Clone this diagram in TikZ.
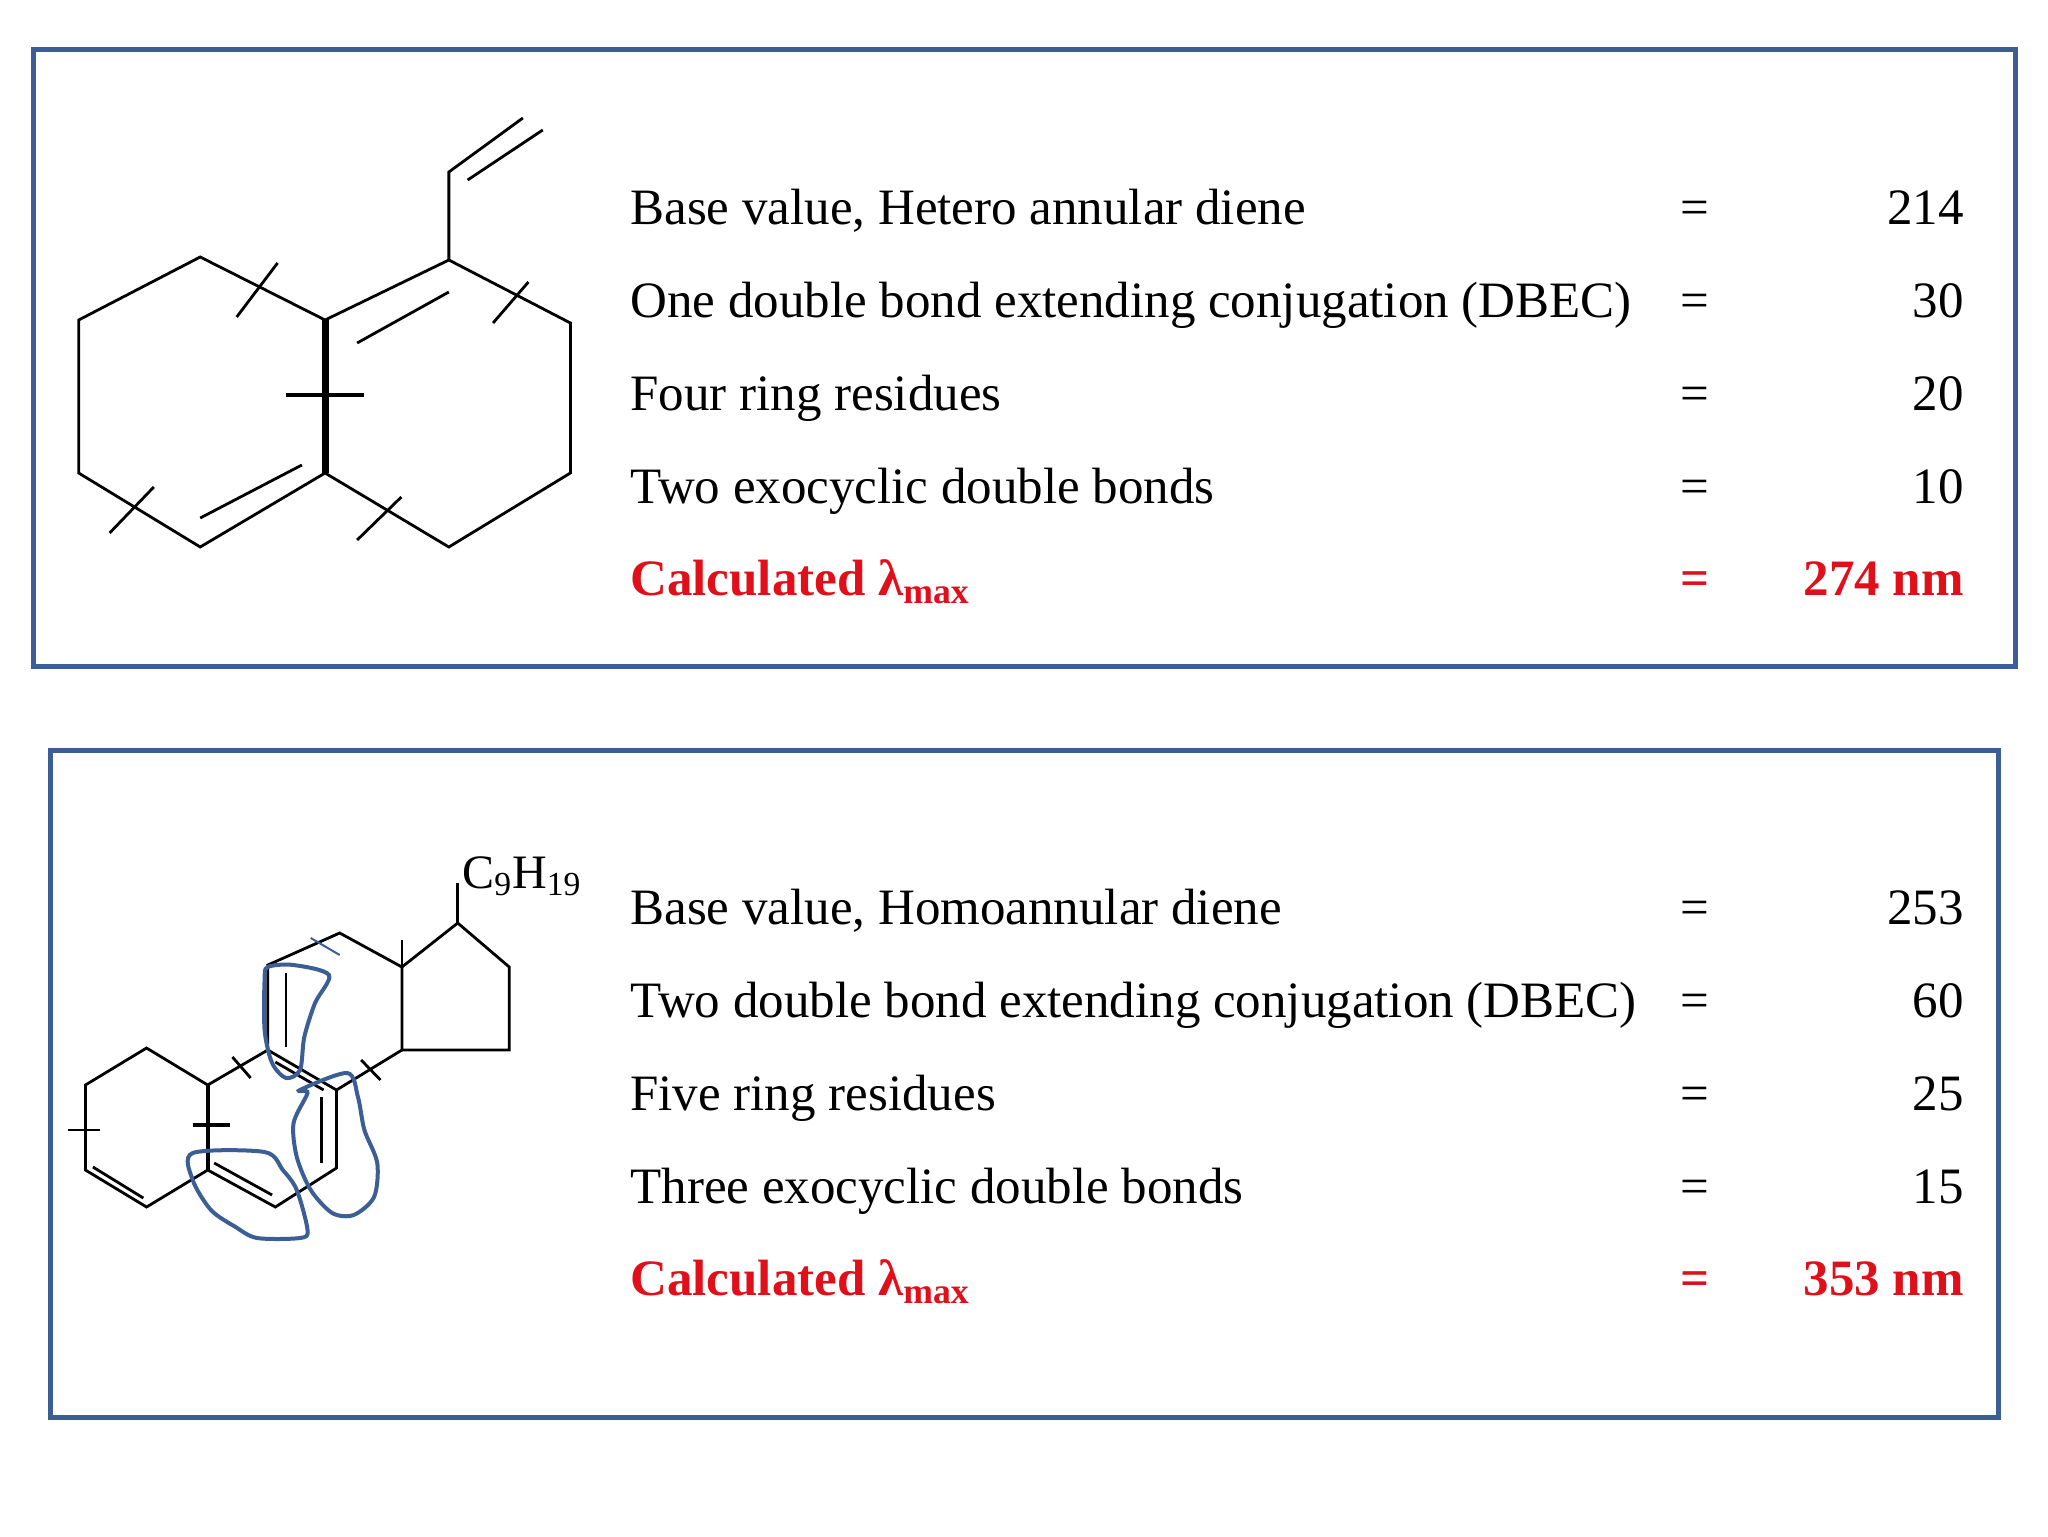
\documentclass[tikz,border=0pt]{standalone}
\usepackage{fontspec}
\setmainfont{Liberation Serif}
\definecolor{bx}{HTML}{3B5F94}
\definecolor{rd}{HTML}{E0101A}
\begin{document}
\begin{tikzpicture}[x=0.5pt,y=-0.5pt,
  txt/.style={anchor=mid west,font=\fontsize{25.5}{30}\selectfont,inner sep=0},
  eq/.style={anchor=mid,font=\fontsize{25.5}{30}\selectfont,inner sep=0},
  num/.style={anchor=mid east,font=\fontsize{25.5}{30}\selectfont,inner sep=0},
  red/.style={text=rd,font=\fontsize{25.5}{30}\selectfont\bfseries},
  bond/.style={line width=1.4pt,line join=miter},
  frame/.style={draw=bx,line width=2.5pt},
  lasso/.style={draw=bx,line width=2pt}]
\useasboundingbox (0,0) rectangle (2048,1536);
\fill[white] (0,0) rectangle (2048,1536);
\draw[frame] (33,50) rectangle (2015,666);
\draw[frame] (50,750) rectangle (1998,1417);
% rows top
\node[txt] (t1) at (630,220) {Base value, Hetero annular diene};
\node[txt] (t2) at (630,313) {One double bond extending conjugation (DBEC)};
\node[txt] (t3) at (630,406) {Four ring residues};
\node[txt] (t4) at (630,499) {Two exocyclic double bonds};
\node[txt,red] (t5) at (630,591) {Calculated λ\textsubscript{max}};
\foreach \y/\n in {220/e1,313/e2,406/e3,499/e4}{\node[eq] (\n) at (1695,\y) {=};}
\node[eq,red] (e5) at (1695,591) {=};
\node[num] (n1) at (1964,220) {214};
\node[num] (n2) at (1964,313) {30};
\node[num] (n3) at (1964,406) {20};
\node[num] (n4) at (1964,499) {10};
\node[num,red] (n5) at (1964,591) {274 nm};
% rows bottom
\node[txt] (b1) at (630,920) {Base value, Homoannular diene};
\node[txt] (b2) at (630,1013) {Two double bond extending conjugation (DBEC)};
\node[txt] (b3) at (630,1106) {Five ring residues};
\node[txt] (b4) at (630,1199) {Three exocyclic double bonds};
\node[txt,red] (b5) at (630,1291) {Calculated λ\textsubscript{max}};
\foreach \y/\n in {920/f1,1013/f2,1106/f3,1199/f4}{\node[eq] (\n) at (1695,\y) {=};}
\node[eq,red] (f5) at (1695,1291) {=};
\node[num] (m1) at (1964,920) {253};
\node[num] (m2) at (1964,1013) {60};
\node[num] (m3) at (1964,1106) {25};
\node[num] (m4) at (1964,1199) {15};
\node[num,red] (m5) at (1964,1291) {353 nm};
% molecule 1
\begin{scope}[shift={(40,0)},xscale=1.105,shift={(-40,0)}]
\draw[bond] (298,320)--(185,257)--(75,320)--(75,473)--(185,547)--(298,473);
\draw[bond] (298,320)--(410,260)--(520,323)--(520,473)--(410,547)--(298,473);
\draw[line width=3.5pt] (298,320)--(298,473);
\draw[bond] (410,260)--(410,172)--(477,118);
\draw[bond] (427,180)--(495,130);
\draw[bond] (327,343)--(410,292);
\draw[bond] (185,518)--(277,465);
\draw[bond] (218,317)--(255,263);
\draw[bond] (450,323)--(482,282);
\draw[line width=2pt] (263,395)--(333,395);
\draw[bond] (103,533)--(143,487);
\draw[bond] (327,540)--(367,497);
\end{scope}
% molecule 2
\begin{scope}[shift={(50,0)},xscale=1.073,shift={(-50,0)}]
\draw[bond] (197,1085)--(140,1048)--(83,1085)--(83,1170)--(140,1207)--(197,1170);
\draw[bond] (197,1085)--(253,1050)--(317,1090)--(317,1168)--(260,1207)--(197,1170);
\draw[line width=2.2pt] (197,1085)--(197,1170);
\draw[bond] (253,1050)--(253,965)--(320,933)--(378,967)--(378,1050)--(317,1090);
\draw[bond] (378,967)--(430,923)--(478,967)--(478,1050)--(378,1050);
\draw[bond] (378,967)--(378,940);
\draw[bond] (430,923)--(430,883);
\node[anchor=west,inner sep=0,font=\fontsize{24}{28}\selectfont] (c9) at (434,876) {C\textsubscript{9}H\textsubscript{19}};
\draw[bond] (270,973)--(270,1047);
\draw[bond] (303,1097)--(303,1163);
\draw[bond] (203,1163)--(257,1195);
\draw[bond] (90,1167)--(137,1198);
\draw[bond] (260,1062)--(305,1090);
\draw[bond] (220,1057)--(237,1078);
\draw[bond] (340,1060)--(358,1080);
\draw[bond] (67,1130)--(97,1130);
\draw[line width=2pt] (183,1125)--(218,1125);
\draw[bx,line width=1pt] (293,938)--(320,955);
\draw[lasso] plot[smooth cycle] coordinates {(253,967) (277,965) (310,975) (297,1003) (287,1037) (283,1070) (270,1078) (257,1063) (250,1030) (250,980)};
\draw[lasso] plot[smooth cycle] coordinates {(283,1090) (327,1073) (337,1097) (343,1130) (355,1163) (352,1197) (333,1215) (313,1213) (293,1190) (280,1157) (277,1123) (290,1093)};
\draw[lasso] plot[smooth cycle] coordinates {(183,1153) (250,1152) (267,1170) (280,1190) (290,1230) (283,1238) (243,1238) (223,1227) (200,1210) (183,1180)};
\end{scope}
\end{tikzpicture}
\end{document}
